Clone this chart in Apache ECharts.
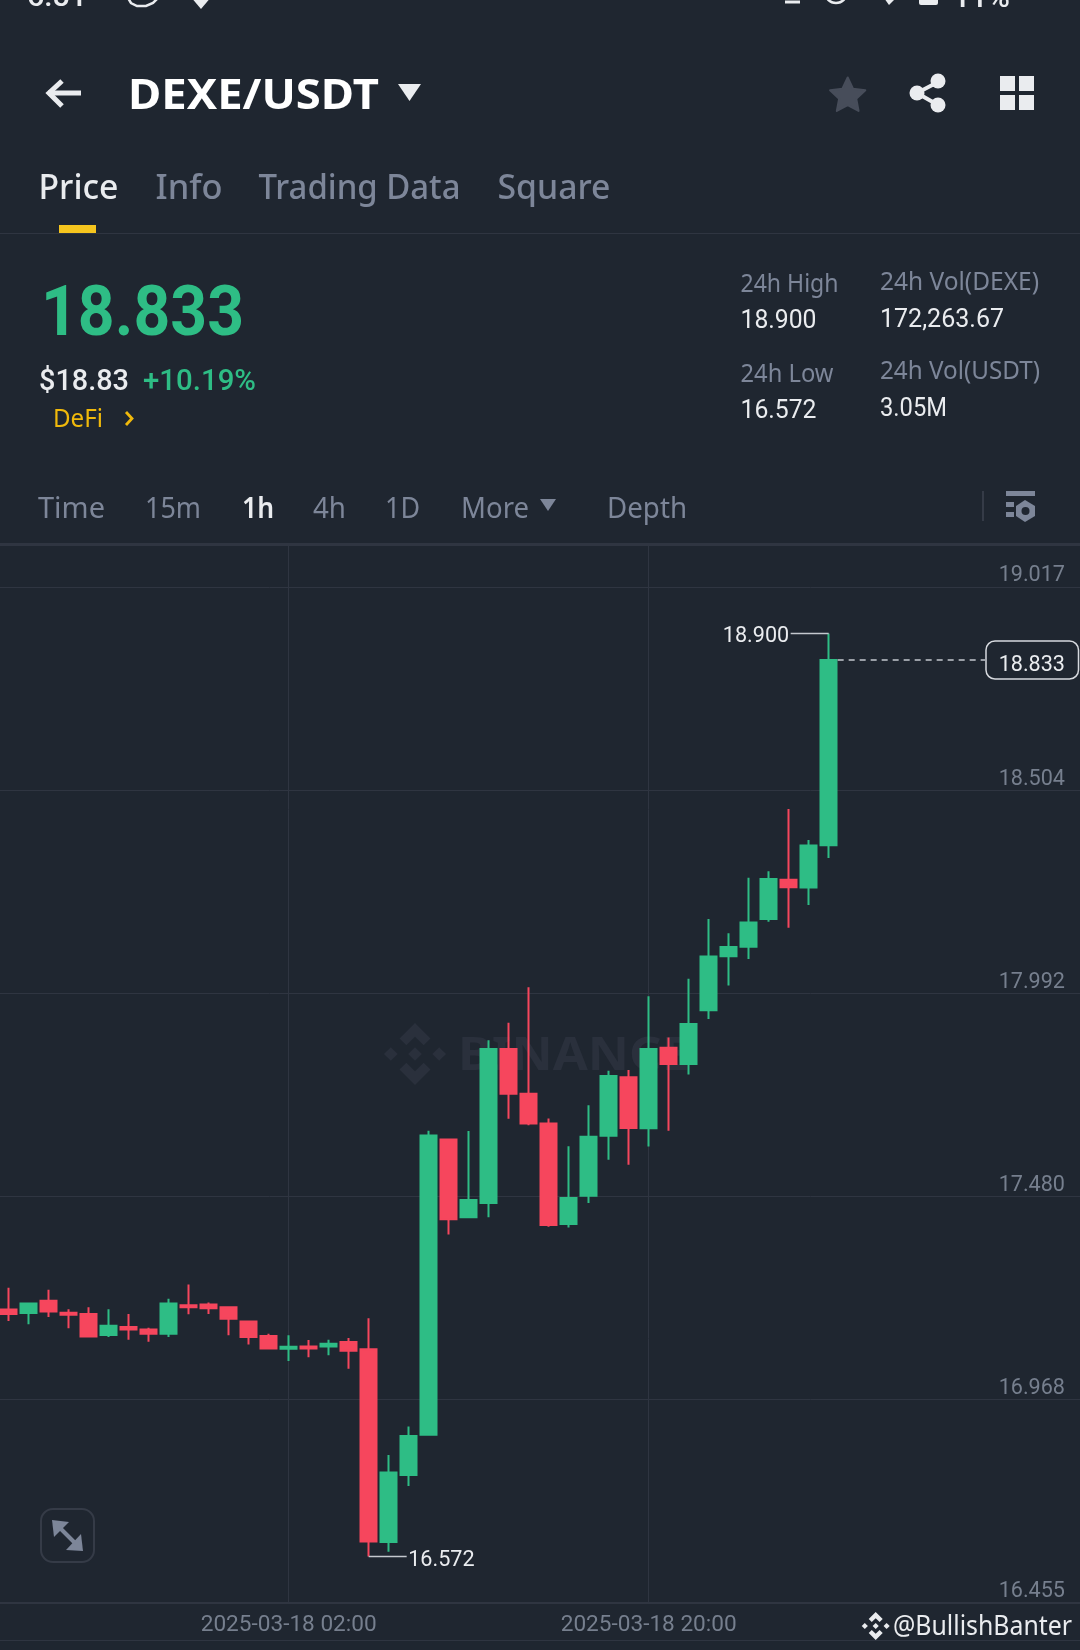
<!DOCTYPE html>
<html>
<head>
<meta charset="utf-8">
<style>html,body{margin:0;background:#1f2630}#chart{width:1080px;height:1650px}</style>
<script src="https://cdn.jsdelivr.net/npm/echarts@6/dist/echarts.min.js"></script>
</head>
<body>
<div id="chart"></div>
<script>
// hourly candles
const categories = [
  '2025-03-17 12:00','2025-03-17 13:00','2025-03-17 14:00','2025-03-17 15:00','2025-03-17 16:00','2025-03-17 17:00',
  '2025-03-17 18:00','2025-03-17 19:00','2025-03-17 20:00','2025-03-17 21:00','2025-03-17 22:00','2025-03-17 23:00',
  '2025-03-18 00:00','2025-03-18 01:00','2025-03-18 02:00','2025-03-18 03:00','2025-03-18 04:00','2025-03-18 05:00',
  '2025-03-18 06:00','2025-03-18 07:00','2025-03-18 08:00','2025-03-18 09:00','2025-03-18 10:00','2025-03-18 11:00',
  '2025-03-18 12:00','2025-03-18 13:00','2025-03-18 14:00','2025-03-18 15:00','2025-03-18 16:00','2025-03-18 17:00',
  '2025-03-18 18:00','2025-03-18 19:00','2025-03-18 20:00','2025-03-18 21:00','2025-03-18 22:00','2025-03-18 23:00',
  '2025-03-19 00:00','2025-03-19 01:00','2025-03-19 02:00','2025-03-19 03:00','2025-03-19 04:00','2025-03-19 05:00'
]
const opens = [17.195,17.186,17.217,17.187,17.184,17.131,17.151,17.145,17.134,17.206,17.208,17.201,17.165,17.128,17.096,17.102,17.102,17.113,17.095,16.609,16.778,
  16.879,17.624,17.428,17.464,17.852,17.739,17.664,17.411,17.482,17.633,17.781,17.652,17.855,17.814,17.950,18.086,18.110,18.180,18.279,18.259,18.366]
const closes = [17.184,17.210,17.190,17.182,17.127,17.154,17.145,17.134,17.210,17.201,17.198,17.172,17.126,17.097,17.101,17.097,17.109,17.091,16.610,16.784,16.876,
  17.634,17.423,17.471,17.852,17.739,17.664,17.408,17.476,17.631,17.784,17.653,17.852,17.814,17.915,18.085,18.109,18.171,18.281,18.260,18.365,18.833]
const lows = [17.166,17.158,17.176,17.148,17.127,17.126,17.119,17.114,17.126,17.183,17.184,17.130,17.107,17.095,17.065,17.075,17.080,17.046,16.572,16.584,16.750,
  16.877,17.384,17.428,17.428,17.676,17.660,17.404,17.402,17.464,17.573,17.560,17.606,17.646,17.788,17.928,18.012,18.079,18.173,18.158,18.215,18.334]
const highs = [17.250,17.211,17.245,17.196,17.201,17.196,17.184,17.149,17.222,17.258,17.213,17.201,17.165,17.134,17.130,17.118,17.119,17.123,17.173,16.828,16.900,
  17.646,17.624,17.645,17.874,17.918,18.008,17.677,17.607,17.710,17.797,17.799,17.985,17.881,18.029,18.180,18.144,18.284,18.300,18.457,18.379,18.900]
const yTicks = [19.017, 18.504, 17.992, 17.480, 16.968, 16.455]
const xTicks = ['2025-03-18 02:00', '2025-03-18 20:00']
const lastPrice = 18.833
const highMark = 18.900
const lowMark = 16.572
const tabs = ['Price', 'Info', 'Trading Data', 'Square']
const intervals = ['Time', '15m', '1h', '4h', '1D', 'More', 'Depth']

const BG = '#1f2630', LINE = '#2f3541', GREEN = '#2ebd85', RED = '#f6465d'
const WHITE = '#eaecef', GREY = '#7d8699', LABEL = '#767f8e'
const SANS = '"Noto Sans"', NUM = 'Roboto'

// one blank slot in front so the grid starts left of the first candle, blanks behind for the free space
const pad = 1
const axisData = [''].concat(categories, new Array(13).fill(''))
const candles = [['-', '-', '-', '-']].concat(categories.map((c, i) => [opens[i], closes[i], lows[i], highs[i]]))
const hiIdx = highs.indexOf(highMark) + pad
const loIdx = lows.indexOf(lowMark) + pad
const lastIdx = categories.length - 1 + pad

const measure = document.createElement('canvas').getContext('2d')
// text placed by baseline, squeezed to the width seen in the picture
function txt(text, x, base, size, fill, width, weight, family) {
  const font = `${weight || 400} ${size}px ${family || SANS}`
  measure.font = font
  const sx = width ? width / measure.measureText(text).width : 1
  const nudge = family === NUM ? 4 + size * 0.023 : 2.1
  return { type: 'text', x, y: base - size * 0.355 + nudge, scaleX: sx, silent: true,
    style: { text, x: 0, y: 0, font, fill, verticalAlign: 'middle', align: 'left' } }
}
function poly(points, fill, z) {
  return { type: 'polygon', silent: true, shape: { points }, style: { fill } }
}
function rect(x, y, width, height, fill, r) {
  return { type: 'rect', silent: true, shape: { x, y, width, height, r: r || 0 }, style: { fill } }
}
function stroke(points, color, lineWidth) {
  return { type: 'polyline', silent: true, shape: { points }, style: { stroke: color, lineWidth, fill: null, lineJoin: 'miter' } }
}
function logo(cx, cy, s, fill) {
  const p = l => l.map(d => [cx + d[0] * s, cy + d[1] * s])
  return [
    poly(p([[0, -.22], [.22, 0], [0, .22], [-.22, 0]]), fill),
    poly(p([[-.78, -.22], [-.56, 0], [-.78, .22], [-1, 0]]), fill),
    poly(p([[.78, -.22], [1, 0], [.78, .22], [.56, 0]]), fill),
    poly(p([[0, -1], [.5, -.5], [.28, -.28], [0, -.56], [-.28, -.28], [-.5, -.5]]), fill),
    poly(p([[0, 1], [.5, .5], [.28, .28], [0, .56], [-.28, .28], [-.5, .5]]), fill)
  ]
}
function starPoints(cx, cy, R, r) {
  const out = []
  for (let i = 0; i < 10; i++) {
    const a = -Math.PI / 2 + i * Math.PI / 5, d = i % 2 ? r : R
    out.push([cx + d * Math.cos(a), cy + d * Math.sin(a)])
  }
  return out
}

const tabX = [38.5, 155.5, 258.5, 497.5], tabW = [80, 67, 202, 113]
const intX = [38, 145, 242, 313, 385, 461, 607], intW = [67, 56, 32, 33, 35, 68, 80]

const chrome = [
  // status bar, cut off by the top of the picture
  txt('6:51', 27, 4, 30, WHITE, 60, 500, NUM),
  stroke([[128, -2], [131, 3], [137, 6], [146, 6], [153, 3], [158, -2]], WHITE, 2.5),
  poly([[190, -4], [212, -4], [201, 9]], WHITE),
  stroke([[785, 2], [800, 2]], WHITE, 3),
  { type: 'circle', silent: true, shape: { cx: 836, cy: -8, r: 11 }, style: { stroke: WHITE, lineWidth: 2.5, fill: null } },
  poly([[884, -2], [896, -2], [889, 5]], WHITE),
  rect(919, -4, 19, 9, WHITE, 2),
  txt('11%', 953, 5, 30, WHITE, 57, 500, NUM),

  // header
  stroke([[81, 93], [48, 93]], WHITE, 5),
  stroke([[62, 81], [49, 93], [62, 106]], WHITE, 5),
  txt('DEXE/USDT', 128, 109.5, 41, '#ffffff', 251, 700),
  poly([[398, 84], [421, 84], [409.5, 101]], WHITE),
  { type: 'polygon', silent: true, shape: { points: starPoints(847.7, 96, 18.5, 9) }, style: { fill: '#474d5a', stroke: '#474d5a', lineWidth: 2, lineJoin: 'round' } },
  stroke([[938, 82], [917, 93], [938, 105]], WHITE, 4),
  { type: 'circle', silent: true, shape: { cx: 938, cy: 81, r: 7.5 }, style: { fill: WHITE } },
  { type: 'circle', silent: true, shape: { cx: 917, cy: 93, r: 7.5 }, style: { fill: WHITE } },
  { type: 'circle', silent: true, shape: { cx: 938, cy: 105, r: 7.5 }, style: { fill: WHITE } },
  rect(1000, 76, 15, 15, WHITE), rect(1019, 76, 15, 15, WHITE),
  rect(1000, 95, 15, 15, WHITE), rect(1019, 95, 15, 15, WHITE),

  // tabs
  ...tabs.map((s, i) => txt(s, tabX[i], 199, 34, i === 0 ? WHITE : GREY, tabW[i], 500)),
  rect(59, 225, 37, 8, '#f5c51e'),
  rect(0, 233, 1080, 1, LINE),

  // price block
  txt('18.833', 41, 336.7, 70, GREEN, 203, 700, NUM),
  txt('$18.83', 39, 388, 29, WHITE, 90, 500, NUM),
  txt('+10.19%', 143, 388, 29, GREEN, 113, 500, NUM),
  txt('DeFi', 53, 426.7, 25, '#f0b90b', 50),
  stroke([[126, 412], [132, 418.5], [126, 425]], '#f0b90b', 2.8),

  // 24h stats
  txt('24h High', 740.5, 291.7, 25, GREY, 98),
  txt('18.900', 740.5, 326, 25, WHITE, 76, 400, NUM),
  txt('24h Low', 740.5, 381.7, 25, GREY, 93),
  txt('16.572', 740.5, 416, 25, WHITE, 76, 400, NUM),
  txt('24h Vol(DEXE)', 880, 290, 25, GREY, 159),
  txt('172,263.67', 880, 324.7, 25, WHITE, 124, 400, NUM),
  txt('24h Vol(USDT)', 880, 379, 25, GREY, 160),
  txt('3.05M', 880, 414, 25, WHITE, 67, 400, NUM),

  // interval row
  ...intervals.map((s, i) => txt(s, intX[i], 517.7, 29, i === 2 ? WHITE : GREY, intW[i], i === 2 ? 600 : 400)),
  poly([[540, 499], [556, 499], [548, 511]], GREY),
  rect(982, 491, 2, 30, '#353b47'),
  rect(1006, 491, 29, 5, GREY),
  rect(1006, 502, 8, 5, GREY),
  rect(1006, 512, 8, 5, GREY),
  poly([[1025, 500], [1035, 506], [1035, 516], [1025, 522], [1016, 516], [1016, 506]], GREY),
  { type: 'circle', silent: true, shape: { cx: 1025.5, cy: 511, r: 4 }, style: { fill: BG } },
  rect(0, 543, 1080, 3, LINE),

  // watermark
  ...logo(415, 1054, 31, '#2a303c'),
  txt('BINANCE', 458, 1071, 47, '#2a303c', 232, 700),

  // expand button
  { type: 'rect', silent: true, shape: { x: 41, y: 1509, width: 53, height: 53, r: 12 }, style: { fill: null, stroke: '#353b47', lineWidth: 2 } },
  stroke([[57, 1525], [78, 1546]], GREY, 4),
  poly([[52, 1520], [69, 1522], [54, 1537]], GREY),
  poly([[83, 1551], [66, 1550], [81, 1534]], GREY),

  // bottom strip
  rect(0, 1640, 1080, 1, LINE),
  ...logo(875.7, 1626, 14, WHITE),
  txt('@BullishBanter', 893, 1635, 28, WHITE, 179)
]

const chart = echarts.init(document.getElementById('chart'))
chart.setOption({
  animation: false,
  backgroundColor: BG,
  graphic: { elements: chrome },
  grid: { left: -11.33, top: 545, width: 1100, height: 1058, outerBoundsMode: 'none' },
  xAxis: {
    type: 'category',
    data: axisData,
    boundaryGap: false,
    axisLine: { lineStyle: { color: LINE, width: 2 } },
    axisTick: { show: false },
    axisLabel: {
      interval: i => xTicks.includes(axisData[i]),
      color: LABEL, fontFamily: NUM, fontSize: 22.6, margin: 11
    },
    splitLine: { show: true, interval: i => xTicks.includes(axisData[i]), lineStyle: { color: LINE, width: 1 } }
  },
  yAxis: {
    type: 'value',
    position: 'right',
    min: 16.455,
    max: 19.123,
    axisLine: { show: false },
    axisTick: { show: false, customValues: yTicks },
    axisLabel: {
      inside: true, customValues: yTicks, margin: 23.67,
      verticalAlign: 'bottom', color: LABEL, fontFamily: NUM, fontSize: 21.6,
      formatter: v => v.toFixed(3)
    },
    splitLine: { show: true, lineStyle: { color: LINE, width: 1 } }
  },
  series: [
    {
      type: 'candlestick',
      data: candles,
      barWidth: 16,
      itemStyle: { color: GREEN, borderColor: GREEN, color0: RED, borderColor0: RED, borderWidth: 2 }
    },
    {
      // session high and low with their leader lines
      type: 'custom',
      data: [[hiIdx, highMark, -1], [loIdx, lowMark, 1]],
      encode: { x: 0, y: 1 },
      z: 5,
      silent: true,
      renderItem: (params, api) => {
        const p = api.coord([api.value(0), api.value(1)])
        const dir = api.value(2)
        return {
          type: 'group',
          children: [
            { type: 'line', shape: { x1: p[0], y1: p[1], x2: p[0] + dir * 38, y2: p[1] }, style: { stroke: '#c4c8ce', lineWidth: 1.5 } },
            { type: 'text', style: {
              x: p[0] + dir * 39.5, y: p[1] + 3.5, text: api.value(1).toFixed(3), fill: WHITE,
              font: `400 21.6px ${NUM}`, align: dir > 0 ? 'left' : 'right', verticalAlign: 'middle'
            } }
          ]
        }
      }
    },
    {
      // last price line and badge
      type: 'custom',
      data: [[lastIdx, lastPrice]],
      encode: { x: 0, y: 1 },
      z: 5,
      silent: true,
      renderItem: (params, api) => {
        const p = api.coord([api.value(0), api.value(1)])
        return {
          type: 'group',
          children: [
            { type: 'line', shape: { x1: p[0] + 9, y1: p[1], x2: 985, y2: p[1] }, style: { stroke: '#c4c8ce', lineWidth: 1.5, lineDash: [6, 5] } },
            { type: 'rect', shape: { x: 986, y: p[1] - 19, width: 92.5, height: 38, r: 9 }, style: { fill: BG, stroke: '#d6d9de', lineWidth: 1.5 } },
            { type: 'text', style: {
              x: 1065, y: p[1] + 6, text: api.value(1).toFixed(3), fill: WHITE,
              font: `400 21.6px ${NUM}`, align: 'right', verticalAlign: 'middle'
            } }
          ]
        }
      }
    }
  ]
})
</script>
</body>
</html>
